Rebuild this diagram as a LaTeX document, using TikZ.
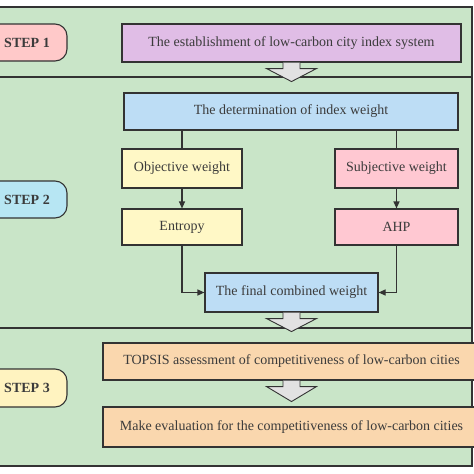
\documentclass[tikz,border=0pt]{standalone}
\usepackage{fontspec}
\setmainfont{Liberation Serif}
\usetikzlibrary{calc,arrows.meta}
\definecolor{panelgreen}{HTML}{C9E5C8}
\definecolor{boxpurple}{HTML}{E0BDE6}
\definecolor{boxblue}{HTML}{BDDDF5}
\definecolor{boxyellow}{HTML}{FFF8C6}
\definecolor{boxpink}{HTML}{FFC8D2}
\definecolor{boxorange}{HTML}{FAD7AE}
\definecolor{pillpink}{HTML}{FFC9C9}
\definecolor{pillcyan}{HTML}{B7E6F3}
\definecolor{pillyellow}{HTML}{FFF3C0}
\definecolor{linegray}{HTML}{333333}
\definecolor{textgray}{HTML}{3B3B3B}
\definecolor{arrowfill}{HTML}{E2E2E2}
\begin{document}
\begin{tikzpicture}[x=1pt,y=-1pt,
  box/.style={draw=linegray,line width=1.1pt,inner sep=0pt,text=textgray,font=\fontsize{14}{16}\selectfont},
  pill/.style={draw=linegray,line width=1.1pt,rounded corners=12pt},
  steplabel/.style={text=textgray,font=\bfseries\fontsize{14}{16}\selectfont,inner sep=0pt},
  conn/.style={draw=linegray,line width=1.1pt},
  tip/.style={-{Triangle[length=7pt,width=6pt]}},
  hollow/.style={draw=linegray,line width=0.9pt,fill=arrowfill,line join=miter}]
\useasboundingbox (0,0) rectangle (474,474);
\fill[white] (0,0) rectangle (474,474);
\clip (0,0) rectangle (474,474);
% panel
\draw[conn,fill=panelgreen] (-10,7) rectangle (472,466);
\draw[conn] (-10,77) -- (472,77);
\draw[conn] (-10,328) -- (472,328);
% step pills
\draw[pill,fill=pillpink] (-30,24) rectangle (67,61);
\node[steplabel] (s1) at (27,42.5) {STEP 1};
\draw[pill,fill=pillcyan] (-30,181) rectangle (67,218);
\node[steplabel] (s2) at (27,199.5) {STEP 2};
\draw[pill,fill=pillyellow] (-30,369) rectangle (67,407);
\node[steplabel] (s3) at (27,388) {STEP 3};
% boxes
\node[box,fill=boxpurple,minimum width=339pt,minimum height=38pt] (est) at (291.5,43) {The establishment of low-carbon city index system};
\node[box,fill=boxblue,minimum width=334pt,minimum height=37pt] (det) at (291,111.5) {The determination of index weight};
\node[box,fill=boxyellow,minimum width=120pt,minimum height=39pt] (obj) at (182,168.5) {Objective weight};
\node[box,fill=boxpink,minimum width=123pt,minimum height=39pt] (sub) at (396.5,168.5) {Subjective weight};
\node[box,fill=boxyellow,minimum width=120pt,minimum height=36pt] (ent) at (182,227) {Entropy};
\node[box,fill=boxpink,minimum width=123pt,minimum height=36pt] (ahp) at (396.5,227) {AHP};
\node[box,fill=boxblue,minimum width=173pt,minimum height=39pt] (fin) at (291.5,292.5) {The final combined weight};
\node[box,fill=boxorange,minimum width=377pt,minimum height=37pt] (top) at (291.5,361.5) {TOPSIS assessment of competitiveness of low-carbon cities};
\node[box,fill=boxorange,minimum width=377pt,minimum height=40pt] (eva) at (291.5,427) {Make evaluation for the competitiveness of low-carbon cities};
% connectors
\draw[conn] (det.south -| obj.north) -- (obj.north);
\draw[conn] (det.south -| sub.north) -- (sub.north);
\draw[conn,tip] (obj.south) -- (ent.north);
\draw[conn,tip] (sub.south) -- (ahp.north);
\draw[conn,tip] (ent.south) |- (fin.west);
\draw[conn,tip] (ahp.south) |- (fin.east);
% hollow arrows
\foreach \a/\len in {est/19,fin/19,top/21}{
  \draw[hollow] ($(\a.south)+(-8.5,0)$) -- ++(0,6) -- ++(-16.5,0) -- ($(\a.south)+(0,\len)$) -- ($(\a.south)+(25,6)$) -- ++(-16.5,0) -- ++(0,-6);
}
\end{tikzpicture}
\end{document}
